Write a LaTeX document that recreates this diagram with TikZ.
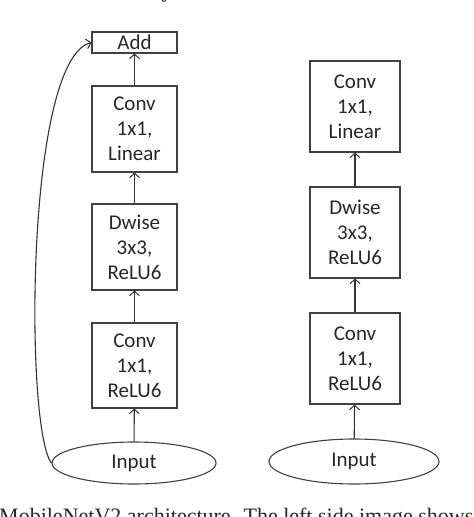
\documentclass[tikz,border=0pt]{standalone}
\usepackage{fontspec}
\setmainfont{Carlito}
\newfontfamily\capfont{Liberation Serif}
\usetikzlibrary{shapes.geometric,arrows.meta}
\begin{document}
\begin{tikzpicture}[x=1pt,y=-1pt,
  blk/.style={draw=black!75, line width=1.1pt, minimum width=85pt, align=center,
    inner sep=0pt, text=black!85, font=\fontsize{21}{25}\selectfont},
  blkr/.style={blk, minimum width=90pt, minimum height=91pt},
  inp/.style={draw=black!75, line width=1.1pt, ellipse, inner sep=0pt,
    text=black!85, font=\fontsize{21}{25}\selectfont},
  conn/.style={draw=black!80, line width=1.1pt, -{Straight Barb[length=4.5pt,width=10pt,line width=1pt]}}
]
\useasboundingbox (0,0) rectangle (474,517);
% left column
\node[blk, minimum height=21pt] (add) at (134.5,42.5) {Add};
\node[blk, minimum height=86pt] (lconv2) at (134.5,129) {Conv\\1x1,\\Linear};
\node[blk, minimum height=86pt] (ldw) at (134.5,247) {Dwise\\3x3,\\ReLU6};
\node[blk, minimum height=85pt] (lconv1) at (134.5,365.5) {Conv\\1x1,\\ReLU6};
\node[inp, minimum width=164pt, minimum height=42pt] (lin) at (134,463) {Input};
\draw[conn] (lin) -- (lconv1);
\draw[conn] (lconv1) -- (ldw);
\draw[conn] (ldw) -- (lconv2);
\draw[conn] (lconv2) -- (add);
\draw[conn] (lin.west) .. controls (25,430) and (25,60) .. (add.west);
% right column
\node[blkr] (rconv2) at (355,106.5) {Conv\\1x1,\\Linear};
\node[blkr] (rdw) at (355,232.5) {Dwise\\3x3,\\ReLU6};
\node[blkr] (rconv1) at (355,358.5) {Conv\\1x1,\\ReLU6};
\node[inp, minimum width=170pt, minimum height=45pt] (rin) at (354,461.5) {Input};
\draw[conn] (rin) -- (rconv1);
\draw[conn] (rconv1) -- (rdw);
\draw[conn] (rdw) -- (rconv2);
% clipped surrounding text
\node[anchor=base, inner sep=0pt, text=black!85, font=\capfont\fontsize{22}{26}\selectfont] (frag) at (167,-3) {y};
\node[anchor=base west, inner sep=0pt, text=black!85, font=\capfont\fontsize{22}{26}\selectfont] (cap) at (-1,523) {MobileNetV2 architecture. The left side image shows};
\end{tikzpicture}
\end{document}
